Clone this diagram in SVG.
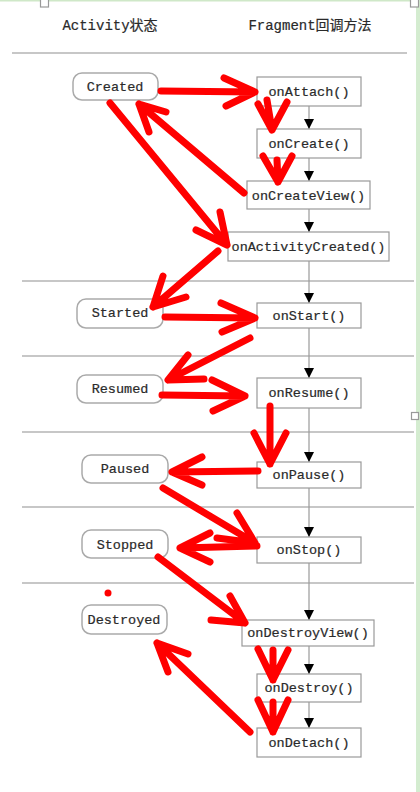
<svg xmlns="http://www.w3.org/2000/svg" width="420" height="792" viewBox="0 0 420 792">
<defs>
<style>
.t{font-family:"Liberation Mono","Noto Sans CJK SC",monospace;font-size:13.5px;fill:#2a2a2a;stroke:#2a2a2a;stroke-width:0.2;text-anchor:middle}
.h{font-size:14px}
.box{fill:#fff;stroke:#999;stroke-width:1.2}
.pill{fill:#fff;stroke:#aaa;stroke-width:1.5}
.div{stroke:#b4b4b4;stroke-width:1.5}
.c{stroke:#999;stroke-width:1.2;fill:none}
.r{stroke:#f00;stroke-width:7;fill:none;stroke-linecap:round;stroke-linejoin:round}
.hd{fill:#fff;stroke:#999;stroke-width:1.2}
</style>
<marker id="ah" markerUnits="userSpaceOnUse" viewBox="0 0 10 10" refX="10" refY="5" markerWidth="10" markerHeight="10" orient="auto">
<path d="M0,0 L10,5 L0,10 z" fill="#000"/>
</marker>
</defs>
<rect x="0" y="0" width="420" height="792" fill="#fff"/>
<line x1="0" y1="0.5" x2="420" y2="0.5" stroke="#cfe8c8" stroke-width="2"/>
<rect x="416" y="0" width="4" height="792" fill="#d4ecd0"/>
<rect class="hd" x="40.5" y="-2" width="8" height="9"/>
<rect class="hd" x="410.5" y="-2" width="8" height="9"/>
<rect class="hd" x="411.5" y="412.5" width="7" height="7"/>

<g id="header">
<text class="t h" x="110" y="30">Activity状态</text>
<text class="t h" x="310" y="30">Fragment回调方法</text>
</g>
<g id="dividers">
<line class="div" x1="12" y1="53" x2="407" y2="53"/>
<line class="div" x1="22" y1="281" x2="414" y2="281"/>
<line class="div" x1="22" y1="356" x2="414" y2="356"/>
<line class="div" x1="22" y1="432" x2="414" y2="432"/>
<line class="div" x1="22" y1="507" x2="414" y2="507"/>
<line class="div" x1="22" y1="583" x2="414" y2="583"/>
</g>

<g id="connectors">
<line class="c" x1="309" y1="106" x2="309" y2="129" marker-end="url(#ah)"/>
<line class="c" x1="309" y1="158" x2="309" y2="181" marker-end="url(#ah)"/>
<line class="c" x1="309" y1="209" x2="309" y2="232" marker-end="url(#ah)"/>
<line class="c" x1="309" y1="261" x2="309" y2="303" marker-end="url(#ah)"/>
<line class="c" x1="309" y1="328" x2="309" y2="378" marker-end="url(#ah)"/>
<line class="c" x1="309" y1="408" x2="309" y2="462" marker-end="url(#ah)"/>
<line class="c" x1="309" y1="488" x2="309" y2="537" marker-end="url(#ah)"/>
<line class="c" x1="309" y1="563" x2="309" y2="620" marker-end="url(#ah)"/>
<line class="c" x1="309" y1="646" x2="309" y2="674" marker-end="url(#ah)"/>
<line class="c" x1="309" y1="702" x2="309" y2="728" marker-end="url(#ah)"/>
</g>

<g id="onAttach"><rect class="box" x="257" y="77" width="104" height="29"/><text class="t" x="309" y="96">onAttach()</text></g>
<g id="onCreate"><rect class="box" x="257" y="129" width="104" height="29"/><text class="t" x="309" y="148">onCreate()</text></g>
<g id="onCreateView"><rect class="box" x="247" y="181" width="123" height="28"/><text class="t" x="308.5" y="200">onCreateView()</text></g>
<g id="onActivityCreated"><rect class="box" x="228" y="232" width="161" height="29"/><text class="t" x="308.5" y="251">onActivityCreated()</text></g>
<g id="onStart"><rect class="box" x="257" y="303" width="104" height="25"/><text class="t" x="309" y="320">onStart()</text></g>
<g id="onResume"><rect class="box" x="257" y="378" width="104" height="30"/><text class="t" x="309" y="397">onResume()</text></g>
<g id="onPause"><rect class="box" x="257" y="462" width="104" height="26"/><text class="t" x="309" y="479">onPause()</text></g>
<g id="onStop"><rect class="box" x="257" y="537" width="104" height="26"/><text class="t" x="309" y="554">onStop()</text></g>
<g id="onDestroyView"><rect class="box" x="242" y="620" width="132" height="26"/><text class="t" x="308" y="637">onDestroyView()</text></g>
<g id="onDestroy"><rect class="box" x="257" y="674" width="104" height="28"/><text class="t" x="309" y="692">onDestroy()</text></g>
<g id="onDetach"><rect class="box" x="257" y="728" width="104" height="29"/><text class="t" x="309" y="747">onDetach()</text></g>

<g id="Created"><rect class="pill" x="73" y="73" width="85" height="27" rx="9"/><text class="t" x="115" y="91">Created</text></g>
<g id="Started"><rect class="pill" x="77" y="299" width="86" height="29" rx="9"/><text class="t" x="120" y="317">Started</text></g>
<g id="Resumed"><rect class="pill" x="77" y="375" width="86" height="28" rx="9"/><text class="t" x="120" y="393">Resumed</text></g>
<g id="Paused"><rect class="pill" x="82" y="455" width="86" height="28" rx="9"/><text class="t" x="125" y="473">Paused</text></g>
<g id="Stopped"><rect class="pill" x="82" y="530" width="86" height="28" rx="9"/><text class="t" x="125" y="549">Stopped</text></g>
<g id="Destroyed"><rect class="pill" x="82" y="605" width="85" height="29" rx="9"/><text class="t" x="124" y="624">Destroyed</text></g>

<g id="annotations">
<path class="r" d="M161,91 L255,92 M224,78 L255,92 L226,106"/>
<path class="r" d="M267,100 L272,130 M258,104 L272,130 L287,102"/>
<path class="r" d="M277,160 L278,182 M263,156 L278,182 L292,156"/>
<path class="r" d="M244,193 L139,104 M149,132 L139,104 L166,112"/>
<path class="r" d="M110,103 L227,245 M220,212 L227,245 L196,230"/>
<path class="r" d="M218,251 L153,307 M163,276 L153,307 L186,297"/>
<path class="r" d="M165,317 L255,318 M221,303 L255,318 L222,332"/>
<path class="r" d="M250,338 L168,380 M188,355 L168,380 L204,379"/>
<path class="r" d="M162,395 L245,396 M212,380 L245,396 L213,411"/>
<path class="r" d="M270,406 L270,464 M254,433 L270,464 L286,433"/>
<path class="r" d="M258,471 L172,472 M202,457 L172,472 L202,485"/>
<path class="r" d="M163,488 L255,543 M237,513 L255,543 L217,538"/>
<path class="r" d="M257,546 L180,548 M210,533 L180,548 L210,562"/>
<path class="r" d="M158,557 L245,623 M230,596 L245,623 L211,620"/>
<circle cx="108" cy="593" r="3.5" fill="#f00"/>
<path class="r" d="M273,650 L273,680 M258,649 L273,680 L288,650"/>
<path class="r" d="M273,702 L273,732 M258,700 L273,732 L288,700"/>
<path class="r" d="M250,732 L157,643 M168,672 L157,643 L188,654"/>
</g>
</svg>
